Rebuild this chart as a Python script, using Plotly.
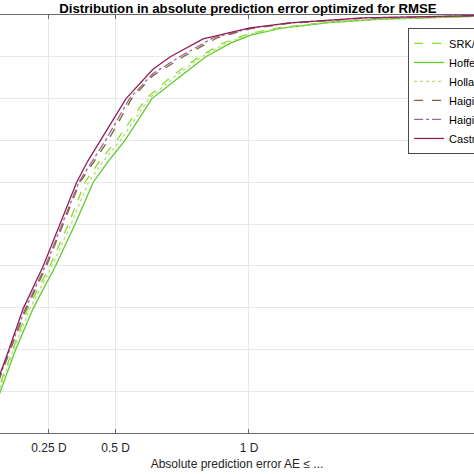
import plotly.graph_objects as go

# Absolute prediction error thresholds (D) and cumulative fractions for each formula
castrop_x = [0.0, 0.066, 0.098, 0.153, 0.229, 0.291, 0.354, 0.395, 0.444, 0.539, 0.640, 0.705, 0.828, 0.929, 1.004, 1.154, 1.427, 1.80, 2.0]
castrop_y = [0.0, 0.140, 0.196, 0.297, 0.400, 0.500, 0.600, 0.650, 0.700, 0.800, 0.870, 0.900, 0.943, 0.958, 0.969, 0.981, 0.993, 0.998, 1.0]

haigis_x = [0.0, 0.066, 0.100, 0.160, 0.241, 0.304, 0.366, 0.420, 0.472, 0.560, 0.640, 0.753, 0.879, 1.004, 1.150, 1.430, 1.80, 2.0]
haigis_y = [0.0, 0.132, 0.190, 0.290, 0.400, 0.500, 0.600, 0.650, 0.700, 0.800, 0.855, 0.900, 0.945, 0.967, 0.980, 0.992, 0.998, 1.0]

haigis3_x = [0.0, 0.066, 0.099, 0.158, 0.237, 0.299, 0.362, 0.412, 0.462, 0.552, 0.640, 0.740, 0.865, 1.004, 1.150, 1.430, 1.80, 2.0]
haigis3_y = [0.0, 0.135, 0.192, 0.293, 0.400, 0.500, 0.600, 0.650, 0.700, 0.800, 0.860, 0.900, 0.945, 0.968, 0.981, 0.993, 0.998, 1.0]

srkt_x = [0.0, 0.066, 0.110, 0.170, 0.254, 0.323, 0.385, 0.442, 0.504, 0.614, 0.715, 0.813, 0.903, 1.004, 1.116, 1.30, 1.50, 1.80, 2.0]
srkt_y = [0.0, 0.115, 0.196, 0.297, 0.400, 0.500, 0.600, 0.652, 0.700, 0.800, 0.856, 0.900, 0.933, 0.956, 0.970, 0.983, 0.990, 0.997, 1.0]

holladay_x = [0.0, 0.066, 0.115, 0.178, 0.262, 0.333, 0.398, 0.456, 0.518, 0.625, 0.725, 0.823, 0.915, 1.004, 1.116, 1.30, 1.50, 1.80, 2.0]
holladay_y = [0.0, 0.107, 0.196, 0.297, 0.400, 0.500, 0.600, 0.652, 0.700, 0.800, 0.854, 0.900, 0.933, 0.954, 0.969, 0.983, 0.990, 0.997, 1.0]

hofferq_x = [0.0, 0.066, 0.123, 0.190, 0.275, 0.348, 0.416, 0.472, 0.535, 0.636, 0.741, 0.838, 0.929, 1.004, 1.116, 1.30, 1.50, 1.80, 2.0]
hofferq_y = [0.0, 0.096, 0.196, 0.297, 0.400, 0.500, 0.600, 0.650, 0.700, 0.800, 0.852, 0.900, 0.932, 0.951, 0.968, 0.982, 0.990, 0.997, 1.0]

tick_vals = [0, 0.25, 0.5, 1, 2]
tick_text = ["0 D", "0.25 D", "0.5 D", "1 D", "2 D"]
y_ticks = [i / 10 for i in range(11)]

series = [
    ("SRK/T", srkt_x, srkt_y, "#84e02c", "dash"),
    ("Hoffer Q", hofferq_x, hofferq_y, "#5ccc2a", "solid"),
    ("Holladay 1", holladay_x, holladay_y, "#b5dc72", "dot"),
    ("Haigis", haigis_x, haigis_y, "#7a6436", "dash"),
    ("Haigis 3-constant", haigis3_x, haigis3_y, "#9a6a8c", "dashdot"),
    ("Castrop", castrop_x, castrop_y, "#941e5a", "solid"),
]

fig = go.Figure()
for name, xs, ys, col, dash in series:
    fig.add_trace(go.Scatter(x=xs, y=ys, mode="lines", name=name,
                             line=dict(color=col, width=1.3, dash=dash)))

fig.update_layout(
    width=474, height=474,
    margin=dict(l=0, r=0, t=15, b=41, autoexpand=False),
    paper_bgcolor="white", plot_bgcolor="white",
    font=dict(family="Liberation Sans, Arial, sans-serif", color="#262626", size=12),
    title=dict(text="<b>Distribution in absolute prediction error optimized for RMSE</b>",
               x=0.523, xref="container", xanchor="center",
               y=1 - 8 / 474, yref="container", yanchor="middle",
               font=dict(size=13.2, color="#000000")),
    showlegend=True,
    legend=dict(x=0.861, y=0.969, xanchor="left", yanchor="top",
                bgcolor="white", bordercolor="#4a4a4a", borderwidth=1,
                font=dict(size=11, color="#000000"), tracegroupgap=0),
    xaxis=dict(range=[0.0664, 1.8437], tickvals=tick_vals, ticktext=tick_text,
               showgrid=True, gridcolor="#e8e8e8", gridwidth=1,
               showline=True, linecolor="#6a6a6a", linewidth=1, mirror="ticks",
               ticks="inside", ticklen=4, tickcolor="#6a6a6a",
               zeroline=False, tickfont=dict(size=12), ticklabelstandoff=4,
               title=dict(text="Absolute prediction error AE ≤ ...", standoff=5,
                          font=dict(size=12))),
    yaxis=dict(range=[0, 1], tickvals=y_ticks, showticklabels=False,
               showgrid=True, gridcolor="#e8e8e8", gridwidth=1,
               showline=False, zeroline=False, ticks=""),
)

fig.write_html("out.html", config={"displayModeBar": False},
               post_script="document.body.style.margin='0';document.body.style.overflow='hidden';")
